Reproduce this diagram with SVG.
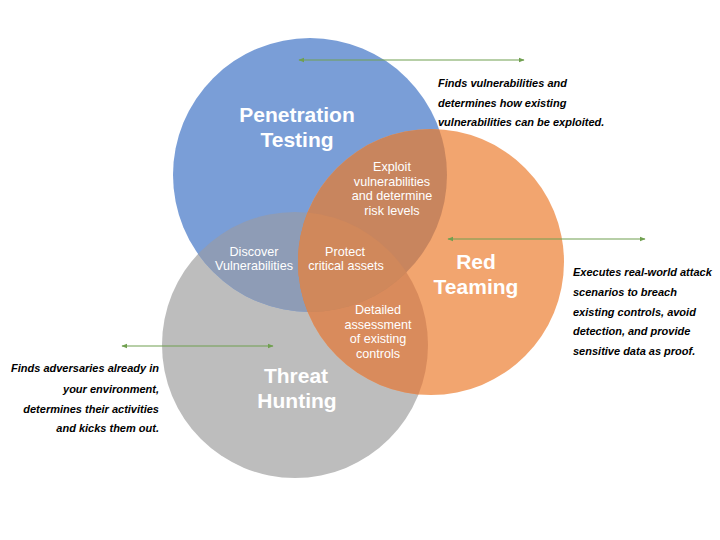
<svg xmlns="http://www.w3.org/2000/svg" width="720" height="540" viewBox="0 0 720 540">
<style>
.lbl{font-family:"Liberation Sans",Arial,sans-serif;font-weight:bold;font-size:21px;fill:#fff;text-anchor:middle}
.in{font-family:"Liberation Sans",Arial,sans-serif;font-size:12.6px;fill:#fff;text-anchor:middle}
.desc{font-family:"Liberation Sans",Arial,sans-serif;font-weight:bold;font-style:italic;font-size:11px;fill:#000}
.conn{stroke:#70A050;stroke-width:1.2;fill:none;marker-start:url(#ah);marker-end:url(#ah)}
</style>
<defs>
<marker id="ah" viewBox="0 0 10 10" refX="9" refY="5" markerWidth="6" markerHeight="6" orient="auto-start-reverse" markerUnits="userSpaceOnUse"><path d="M0,1 L10,5 L0,9 Z" fill="#70A050"/></marker>
<clipPath id="cB"><circle cx="310" cy="175" r="137"/></clipPath>
<clipPath id="cO"><circle cx="431" cy="262" r="133"/></clipPath>
<clipPath id="cG"><circle cx="295" cy="345" r="133"/></clipPath>
</defs>
<rect width="720" height="540" fill="#fff"/>
<g id="threat-hunting"><circle cx="295" cy="345" r="133" fill="#BDBDBD"/></g>
<g id="penetration-testing"><circle cx="310" cy="175" r="137" fill="#7A9ED7"/></g>
<g id="red-teaming"><circle cx="431" cy="262" r="133" fill="#F2A56F"/></g>
<g id="overlaps">
<circle cx="295" cy="345" r="133" fill="#8E9CB6" clip-path="url(#cB)"/>
<circle cx="295" cy="345" r="133" fill="#D98B5C" clip-path="url(#cO)"/>
<circle cx="310" cy="175" r="137" fill="#C8855E" clip-path="url(#cO)"/>
<g clip-path="url(#cB)"><circle cx="295" cy="345" r="133" fill="#D0885B" clip-path="url(#cO)"/></g>
</g>
<g id="labels">
<text class="lbl" x="297" y="122">Penetration</text>
<text class="lbl" x="297" y="147">Testing</text>
<text class="lbl" x="476" y="269">Red</text>
<text class="lbl" x="476" y="294">Teaming</text>
<text class="lbl" x="296" y="383">Threat</text>
<text class="lbl" x="297" y="408">Hunting</text>
<text class="in" x="392" y="171">Exploit</text>
<text class="in" x="392" y="185.5">vulnerabilities</text>
<text class="in" x="392" y="200">and determine</text>
<text class="in" x="392" y="214.5">risk levels</text>
<text class="in" x="254" y="256">Discover</text>
<text class="in" x="254" y="270">Vulnerabilities</text>
<text class="in" x="345" y="256">Protect</text>
<text class="in" x="346" y="270">critical assets</text>
<text class="in" x="378" y="314">Detailed</text>
<text class="in" x="378" y="328.5">assessment</text>
<text class="in" x="378" y="343">of existing</text>
<text class="in" x="378" y="357.5">controls</text>
</g>
<g id="connectors">
<line class="conn" x1="299" y1="60" x2="524" y2="60"/>
<line class="conn" x1="448" y1="239" x2="645" y2="239"/>
<line class="conn" x1="122" y1="346" x2="273" y2="346"/>
</g>
<g id="descriptions">
<text class="desc" x="438" y="87">Finds vulnerabilities and</text>
<text class="desc" x="438" y="107">determines how existing</text>
<text class="desc" x="438" y="126">vulnerabilities can be exploited.</text>
<text class="desc" x="573" y="276">Executes real-world attack</text>
<text class="desc" x="573" y="296">scenarios to breach</text>
<text class="desc" x="573" y="315.5">existing controls, avoid</text>
<text class="desc" x="573" y="335">detection, and provide</text>
<text class="desc" x="573" y="355">sensitive data as proof.</text>
<text class="desc" x="159" y="372" text-anchor="end">Finds adversaries already in</text>
<text class="desc" x="159" y="393" text-anchor="end">your environment,</text>
<text class="desc" x="159" y="413" text-anchor="end">determines their activities</text>
<text class="desc" x="159" y="432" text-anchor="end">and kicks them out.</text>
</g>
</svg>
